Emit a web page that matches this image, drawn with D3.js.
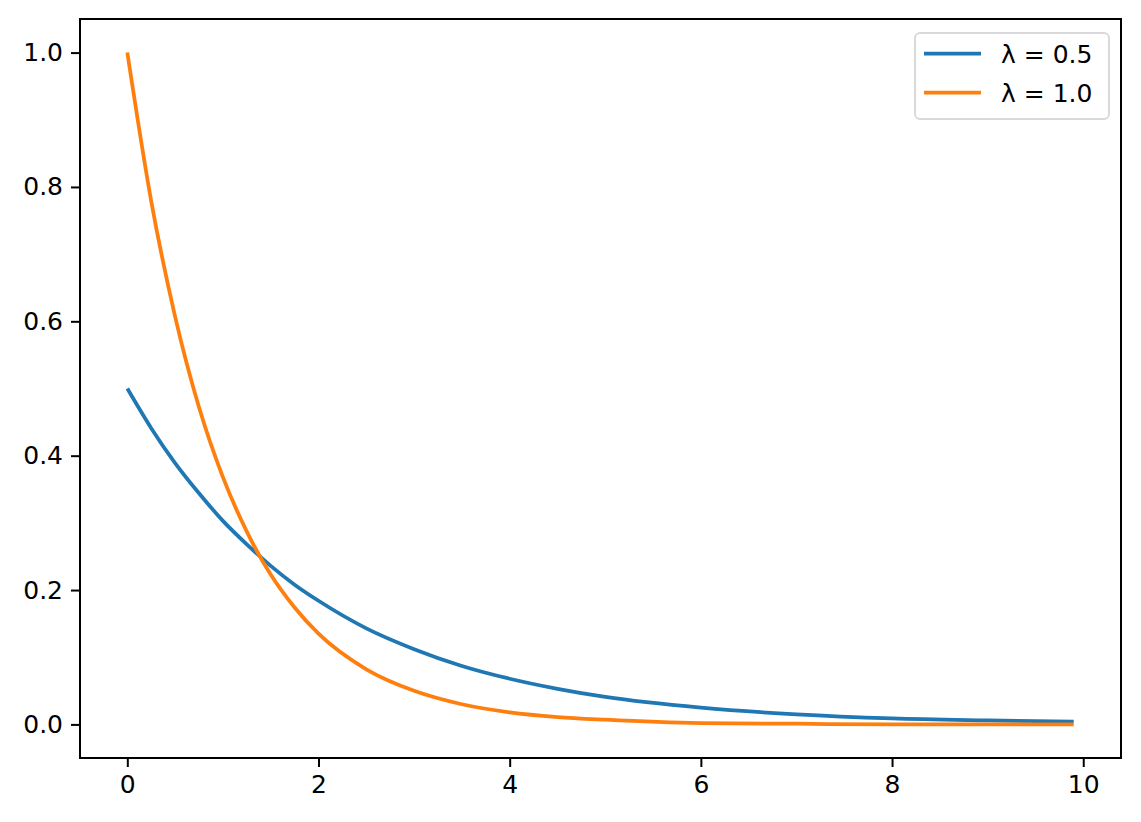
<!DOCTYPE html>
<html>
<head>
<meta charset="utf-8">
<script src="https://cdn.jsdelivr.net/npm/d3@7"></script>
<style>
  body { margin: 0; background: #fff; }
  svg { font-family: "DejaVu Sans", sans-serif; }
  .axis text { font-family: "DejaVu Sans", sans-serif; font-size: 25px; fill: #000; }
  .axis path, .axis line { stroke: #000; stroke-width: 2px; }
</style>
</head>
<body>
<svg id="chart"></svg>
<script>
const WIDTH = 1141;
const HEIGHT = 822;
const LEFT = 80, RIGHT = 1121, TOP = 19, BOTTOM = 758; // axes box in pixels

// values
const xs = [0, 0.25, 0.5, 0.75, 1, 1.25, 1.5, 1.75, 2, 2.5, 3, 3.5, 4, 4.5, 5, 6, 7, 8, 9, 9.9];
const lam05 = [0.500, 0.441, 0.389, 0.344, 0.303, 0.268, 0.236, 0.208, 0.184, 0.143, 0.112, 0.087, 0.068, 0.053, 0.041, 0.025, 0.015, 0.009, 0.006, 0.004];
const lam10 = [1.000, 0.779, 0.607, 0.472, 0.368, 0.287, 0.223, 0.174, 0.135, 0.082, 0.050, 0.030, 0.018, 0.011, 0.007, 0.002, 0.001, 0.000, 0.000, 0.000];
const seriesNames = ["λ = 0.5", "λ = 1.0"];
const seriesColors = ["#1f77b4", "#ff7f0e"];
const xTicks = [0, 2, 4, 6, 8, 10];
const yTicks = [0.0, 0.2, 0.4, 0.6, 0.8, 1.0];

const svg = d3.select("#chart").attr("width", WIDTH).attr("height", HEIGHT);

const x = d3.scaleLinear().domain([-0.495, 10.395]).range([LEFT, RIGHT]);
const y = d3.scaleLinear().domain([-0.05, 1.05]).range([BOTTOM, TOP]);

const line = d3.line()
  .x(d => x(d[0]))
  .y(d => y(d[1]))
  .curve(d3.curveMonotoneX);

[lam05, lam10].forEach((vals, i) => {
  svg.append("path")
    .datum(xs.map((v, j) => [v, vals[j]]))
    .attr("fill", "none")
    .attr("stroke", seriesColors[i])
    .attr("stroke-width", 3.75)
    .attr("stroke-linejoin", "round")
    .attr("d", line);
});

// axes
svg.append("g")
  .attr("class", "axis")
  .attr("transform", "translate(0," + BOTTOM + ")")
  .call(d3.axisBottom(x).tickValues(xTicks).tickSize(9).tickPadding(8).tickFormat(d3.format("d")))
  .call(g => g.select(".domain").remove());

svg.append("g")
  .attr("class", "axis")
  .attr("transform", "translate(" + LEFT + ",0)")
  .call(d3.axisLeft(y).tickValues(yTicks).tickSize(9).tickPadding(8).tickFormat(d3.format(".1f")))
  .call(g => g.select(".domain").remove());

svg.append("rect") // axes frame
  .attr("x", LEFT).attr("y", TOP)
  .attr("width", RIGHT - LEFT).attr("height", BOTTOM - TOP)
  .attr("fill", "none").attr("stroke", "#000").attr("stroke-width", 2);

// legend
const legend = svg.append("g").attr("transform", "translate(915,33)");
legend.append("rect")
  .attr("width", 194).attr("height", 86)
  .attr("rx", 5).attr("ry", 5)
  .attr("fill", "#fff").attr("fill-opacity", 0.8)
  .attr("stroke", "#d9d9d9").attr("stroke-width", 2);

seriesNames.forEach((name, i) => {
  const ry = 20.5 + i * 39;
  legend.append("line")
    .attr("x1", 9).attr("x2", 66)
    .attr("y1", ry).attr("y2", ry)
    .attr("stroke", seriesColors[i]).attr("stroke-width", 3.75);
  legend.append("text")
    .attr("x", 86).attr("y", ry + 9)
    .style("font-size", "25px")
    .text(name);
});
</script>
</body>
</html>
